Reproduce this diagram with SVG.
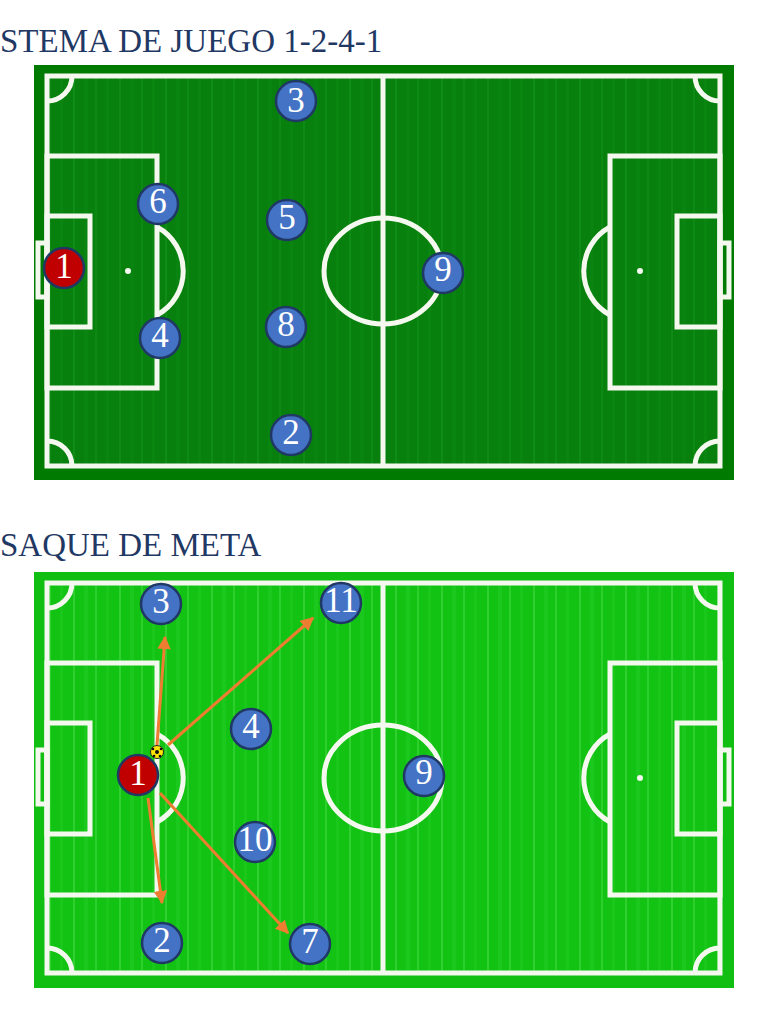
<svg xmlns="http://www.w3.org/2000/svg" width="768" height="1024" viewBox="0 0 768 1024">
<defs>
<style>
.title{font-family:"Liberation Serif","Times New Roman",serif;font-size:33px;fill:#1f3864}
.ln{fill:none;stroke:#f4f8ee;stroke-width:5}
.spot{fill:#f4f8ee}
.pl circle{fill:#4472c4;stroke:#1f3864;stroke-width:2.5}
.pl.gk circle{fill:#c00000}
.pl text{font-family:"Liberation Serif","Times New Roman",serif;font-size:35px;fill:#fff;text-anchor:middle}
.arr{stroke:#ed7d31;stroke-width:3;fill:none;marker-end:url(#ah)}
</style>
<marker id="ah" viewBox="0 0 10 10" refX="9" refY="5" markerWidth="4.5" markerHeight="4.5" orient="auto" markerUnits="strokeWidth">
<path d="M0,0 L10,5 L0,10 Z" fill="#ed7d31"/>
</marker>
<pattern id="stripesA" width="46" height="10" patternUnits="userSpaceOnUse">
<rect width="46" height="10" fill="#08800d"/>
<rect x="3" width="2" height="10" fill="#0d8a14"/>
<rect x="14" width="3" height="10" fill="#0a8510"/>
<rect x="27" width="2" height="10" fill="#0e8c15"/>
<rect x="38" width="4" height="10" fill="#0a8410"/>
</pattern>
<pattern id="stripesB" width="46" height="10" patternUnits="userSpaceOnUse">
<rect width="46" height="10" fill="#12c314"/>
<rect x="3" width="2" height="10" fill="#2ccf2c"/>
<rect x="14" width="3" height="10" fill="#1ac81c"/>
<rect x="27" width="2" height="10" fill="#30d030"/>
<rect x="38" width="4" height="10" fill="#1bc81d"/>
</pattern>
<g id="pitch">
<rect x="47" y="0" width="673" height="390" class="ln"/>
<line x1="383" y1="0" x2="383" y2="390" class="ln"/>
<ellipse cx="383" cy="195" rx="59" ry="53" class="ln"/>
<rect x="47" y="80" width="110" height="232" class="ln"/>
<rect x="47" y="140" width="43" height="111" class="ln"/>
<rect x="38" y="167" width="9" height="54" class="ln" stroke-width="3"/>
<circle cx="128" cy="195" r="3" class="spot"/>
<path d="M157,151 A50,50 0 0 1 157,239" class="ln"/>
<rect x="610" y="80" width="110" height="232" class="ln"/>
<rect x="677" y="140" width="43" height="111" class="ln"/>
<rect x="720" y="167" width="9" height="54" class="ln" stroke-width="3"/>
<circle cx="640" cy="195" r="3" class="spot"/>
<path d="M610,151 A50,50 0 0 0 610,239" class="ln"/>
<path d="M47,25 A25,25 0 0 0 72,0" class="ln"/>
<path d="M695,0 A25,25 0 0 0 720,25" class="ln"/>
<path d="M47,365 A25,25 0 0 1 72,390" class="ln"/>
<path d="M695,390 A25,25 0 0 1 720,365" class="ln"/>
</g>
</defs>

<text class="title" x="0" y="52">STEMA DE JUEGO 1-2-4-1</text>
<text class="title" x="0" y="556">SAQUE DE META</text>

<g id="field1">
<rect x="34" y="65" width="700" height="415" fill="#007a00"/>
<rect x="47" y="76" width="673" height="390" fill="url(#stripesA)"/>
<use href="#pitch" x="0" y="76"/>
</g>

<g id="field2">
<rect x="34" y="572" width="700" height="416" fill="#10bf12"/>
<rect x="47" y="584" width="673" height="389" fill="url(#stripesB)"/>
<use href="#pitch" x="0" y="583"/>
</g>

<g id="top-players">
<g id="t3" class="pl"><circle cx="296" cy="101" r="20"/><text x="296" y="112">3</text></g>
<g id="t6" class="pl"><circle cx="158" cy="204" r="20"/><text x="158" y="213">6</text></g>
<g id="t5" class="pl"><circle cx="287" cy="220" r="20"/><text x="287" y="229">5</text></g>
<g id="t1" class="pl gk"><circle cx="64" cy="268" r="20"/><text x="64" y="278">1</text></g>
<g id="t9" class="pl"><circle cx="443" cy="273" r="20"/><text x="443" y="281">9</text></g>
<g id="t4" class="pl"><circle cx="160" cy="338" r="20"/><text x="160" y="347">4</text></g>
<g id="t8" class="pl"><circle cx="286" cy="327" r="20"/><text x="286" y="336">8</text></g>
<g id="t2" class="pl"><circle cx="291" cy="435" r="20"/><text x="291" y="444">2</text></g>
</g>

<g id="connectors">
<line class="arr" x1="157" y1="745" x2="165" y2="637"/>
<line class="arr" x1="168" y1="745" x2="313" y2="618"/>
<line class="arr" x1="148" y1="798" x2="162" y2="903"/>
<line class="arr" x1="160" y1="793" x2="288" y2="933"/>
</g>

<g id="ball">
<circle cx="157" cy="752" r="6.5" fill="#ffe600" stroke="#222" stroke-width="1"/>
<circle cx="157" cy="752" r="2" fill="#111"/>
<circle cx="153" cy="749" r="1.3" fill="#111"/>
<circle cx="161" cy="749" r="1.3" fill="#111"/>
<circle cx="154" cy="756" r="1.3" fill="#111"/>
<circle cx="160" cy="756" r="1.3" fill="#111"/>
</g>

<g id="bottom-players">
<g id="b3" class="pl"><circle cx="161" cy="604" r="20"/><text x="161" y="613">3</text></g>
<g id="b11" class="pl"><circle cx="341" cy="603" r="20"/><text x="341" y="612">11</text></g>
<g id="b4" class="pl"><circle cx="251" cy="729" r="20"/><text x="251" y="738">4</text></g>
<g id="b1" class="pl gk"><circle cx="138" cy="775" r="20"/><text x="138" y="785">1</text></g>
<g id="b9" class="pl"><circle cx="424" cy="776" r="20"/><text x="424" y="784">9</text></g>
<g id="b10" class="pl"><circle cx="255" cy="842" r="20"/><text x="255" y="851">10</text></g>
<g id="b2" class="pl"><circle cx="162" cy="943" r="20"/><text x="162" y="952">2</text></g>
<g id="b7" class="pl"><circle cx="310" cy="944" r="20"/><text x="310" y="953">7</text></g>
</g>
</svg>
